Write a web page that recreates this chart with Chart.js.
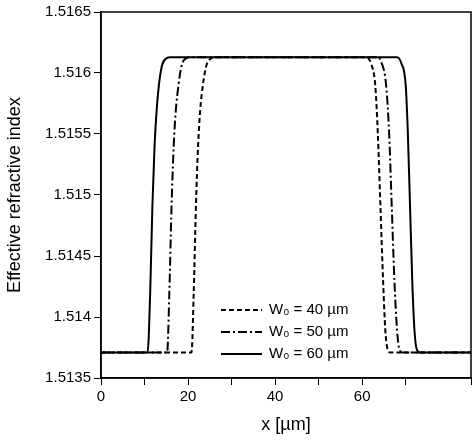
<!DOCTYPE html>
<html><head><meta charset="utf-8">
<script src="https://cdn.jsdelivr.net/npm/chart.js@4"></script>
<style>html,body{margin:0;background:#fff}#w{width:474px;height:440px}</style>
</head><body><div id="w"><canvas id="c"></canvas></div>
<script>
const xs60 = [0,10.7,11.3,11.8,12.3,12.8,13.3,14,15,16,68,69,70,70.5,71,71.5,72,72.5,73.3,86];
const xs50 = [0,15.2,15.7,16.2,16.7,17.2,17.8,18.5,19.5,20.5,63.5,64.5,65.5,66.2,66.8,67.4,68,68.5,69.2,86];
const xs40 = [0,20.8,21.3,21.8,22.3,22.8,23.4,24.2,25.3,26.3,61,62,63,63.6,64.2,64.8,65.3,65.8,66.4,86];
const ys = [1.51371,1.51371,1.5142,1.5149,1.5154,1.5157,1.5159,1.51606,1.51612,1.51613,1.51613,1.51608,1.5159,1.5155,1.5149,1.5143,1.5139,1.51374,1.51371,1.51371];
const labels = ['W\u2080 = 40 \u00b5m','W\u2080 = 50 \u00b5m','W\u2080 = 60 \u00b5m'];
const dashes = [[5,3],[9,3,2,3],[]];
const pts = xs => xs.map((x,i)=>({x, y: ys[i]}));
const sets = [xs40, xs50, xs60];
const frame = {id:'frame', afterDraw(ch){const {ctx,chartArea:a}=ch;ctx.save();ctx.strokeStyle='#000';ctx.lineWidth=1.5;ctx.strokeRect(a.left,a.top,a.right-a.left,a.bottom-a.top);
 ctx.font='15px Arial, "Liberation Sans"';ctx.fillStyle='#000';ctx.textBaseline='middle';
 labels.forEach((t,i)=>{const y=310+i*22;ctx.beginPath();ctx.setLineDash(dashes[i]);ctx.lineWidth=2;ctx.moveTo(221,y);ctx.lineTo(262,y);ctx.stroke();ctx.setLineDash([]);ctx.fillText(t,269,y);});
 ctx.restore();}};
new Chart(document.getElementById('c'),{type:'scatter',
 data:{datasets:sets.map((s,i)=>({label:labels[i],data:pts(s),showLine:true,borderColor:'#000',borderWidth:2,borderDash:dashes[i],pointRadius:0,tension:0.3,cubicInterpolationMode:'monotone'}))},
 options:{responsive:true,maintainAspectRatio:false,animation:false,layout:{padding:{top:1,right:2,left:0,bottom:0}},
  plugins:{legend:{display:false},tooltip:{enabled:false}},
  scales:{
   x:{type:'linear',min:0,max:85,afterFit(s){s.height=62},grid:{drawOnChartArea:false,tickLength:7,color:'#000'},border:{color:'#000',width:1.5},
      ticks:{stepSize:10,autoSkip:false,maxRotation:0,color:'#000',font:{size:15,family:'Arial, "Liberation Sans"'},callback:v=>v%20===0?v:''},
      title:{display:true,text:'x [\u00b5m]',color:'#000',font:{size:18,family:'Arial, "Liberation Sans"'},padding:{top:0}}},
   y:{min:1.5135,max:1.5165,afterFit(s){s.width=101},grid:{drawOnChartArea:false,tickLength:7,color:'#000'},border:{color:'#000',width:1.5},
      ticks:{stepSize:0.0005,autoSkip:false,color:'#000',font:{size:15,family:'Arial, "Liberation Sans"'},callback:v=>String(parseFloat(v.toFixed(4)))},
      title:{display:true,text:'Effective refractive index',color:'#000',font:{size:18,family:'Arial, "Liberation Sans"'},padding:{bottom:2}}}
  }},plugins:[frame]});
</script></body></html>
